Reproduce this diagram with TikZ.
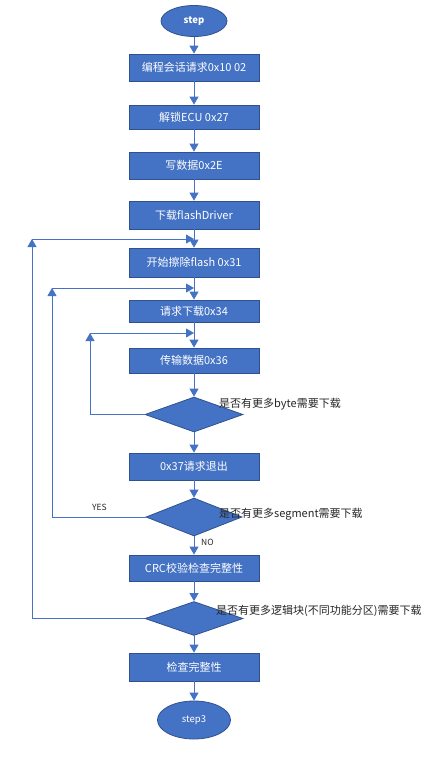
\documentclass[tikz,border=0pt]{standalone}
\usepackage{fontspec}
\setmainfont{Noto Sans CJK SC}
\usetikzlibrary{shapes.geometric,arrows.meta}
\definecolor{ofblue}{HTML}{4472C4}
\definecolor{ofedge}{HTML}{2F528F}
\definecolor{lbltext}{HTML}{262626}
\begin{document}
\begin{tikzpicture}[x=1pt,y=-1pt,
 proc/.style={rectangle,draw=ofedge,line width=0.8pt,fill=ofblue,text=white,minimum width=130pt,inner sep=0pt,font=\fontsize{11}{13}\selectfont},
 term/.style={ellipse,draw=ofedge,line width=0.8pt,fill=ofblue,text=white,inner sep=0pt,font=\fontsize{9.5}{11}\selectfont},
 dec/.style={diamond,draw=ofedge,line width=0.8pt,fill=ofblue,minimum width=98pt,inner sep=0pt},
 conn/.style={draw=ofblue,line width=0.9pt,-{Triangle[width=9pt,length=8pt]}},
 lbl/.style={anchor=west,inner sep=0pt,text=lbltext,font=\fontsize{11}{13}\selectfont},
 small/.style={anchor=west,inner sep=0pt,text=lbltext,font=\fontsize{8.5}{10}\selectfont},
]
\useasboundingbox (0,0) rectangle (446,757);
\node[term,minimum width=66pt,minimum height=31pt,font=\fontsize{9.5}{11}\selectfont\bfseries] (s) at (194,21) {step};
\node[proc,minimum height=27pt] (b1) at (194,67.5) {编程会话请求0x10 02};
\node[proc,minimum height=24pt] (b2) at (194,117) {解锁ECU 0x27};
\node[proc,minimum height=27pt] (b3) at (194,165.5) {写数据0x2E};
\node[proc,minimum height=28pt] (b4) at (194,215) {下载flashDriver};
\node[proc,minimum height=29pt] (b5) at (194,262.5) {开始擦除flash 0x31};
\node[proc,minimum height=22pt] (b6) at (194,311) {请求下载0x34};
\node[proc,minimum height=25pt] (b7) at (194,360.5) {传输数据0x36};
\node[dec,minimum height=35pt] (d1) at (194,414.5) {};
\node[proc,minimum height=27pt] (b8) at (194,466.5) {0x37请求退出};
\node[dec,minimum height=38pt,minimum width=96pt] (d2) at (194,517) {};
\node[proc,minimum height=26pt] (b9) at (194,568) {CRC校验检查完整性};
\node[dec,minimum height=34pt] (d3) at (194,618.5) {};
\node[proc,minimum height=28pt] (b10) at (194,667) {检查完整性};
\node[term,minimum width=73pt,minimum height=38pt] (e) at (194,720) {step3};

\node[lbl] (l1) at (219,404) {是否有更多byte需要下载};
\node[lbl] (l2) at (219,514) {是否有更多segment需要下载};
\node[lbl] (l3) at (216,611) {是否有更多逻辑块(不同功能分区)需要下载};
\node[small] (yes) at (92,507) {YES};
\node[small] (no) at (201,542) {NO};

\foreach \a/\b in {s/b1,b1/b2,b2/b3,b3/b4,b4/b5,b5/b6,b6/b7,b7/d1,d1/b8,b8/d2,d2/b9,b9/d3,d3/b10,b10/e}
  \draw[conn] (\a) -- (\b);

\coordinate (c1) at (32,239);  \coordinate (m1) at (194,239);
\coordinate (c2) at (52,288);  \coordinate (m2) at (194,288);
\coordinate (c3) at (90,333);  \coordinate (m3) at (194,333);
\draw[conn] (d3.west) -| (c1);
\draw[conn] (c1) -- (m1);
\draw[conn] (d2.west) -| (c2);
\draw[conn] (c2) -- (m2);
\draw[conn] (d1.west) -| (c3);
\draw[conn] (c3) -- (m3);
\end{tikzpicture}
\end{document}
